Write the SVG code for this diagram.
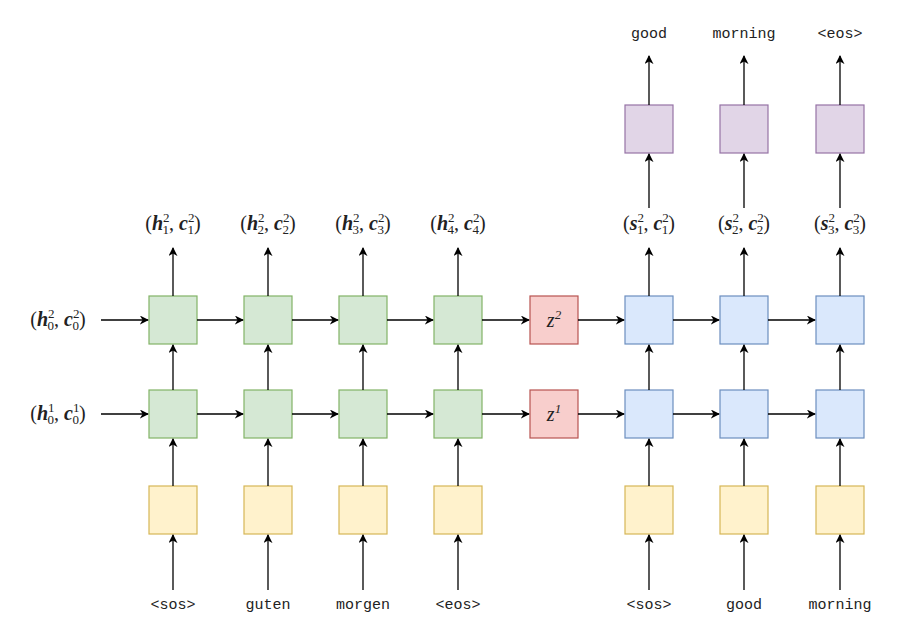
<svg xmlns="http://www.w3.org/2000/svg" width="906" height="636" viewBox="0 0 906 636">
<defs><marker id="a" viewBox="0 0 10 10" refX="9" refY="5" markerWidth="9" markerHeight="9" markerUnits="userSpaceOnUse" orient="auto"><path d="M0,0L10,5L0,10L3,5Z" fill="#000"/></marker></defs>
<style>
.g{fill:#d5e8d4;stroke:#82b366}.b{fill:#dae8fc;stroke:#6c8ebf}.y{fill:#fff2cc;stroke:#d6b656}.p{fill:#e1d5e7;stroke:#9673a6}.r{fill:#f8cecc;stroke:#b85450}
rect{stroke-width:1.2}
.c line{stroke:#000;stroke-width:1.3;marker-end:url(#a)}
.w{font-family:"Liberation Mono","Courier New",monospace;font-size:15px;text-anchor:middle;fill:#222}
.m{font-family:"Liberation Serif","DejaVu Serif",serif;font-size:20px;text-anchor:middle;fill:#222}
.i{font-style:italic;font-weight:bold}
.s{font-size:13px}
</style>
<rect width="906" height="636" fill="#fff"/>
<g id="enc-emb"><rect class="y" x="149" y="486" width="48" height="48"/><rect class="y" x="244" y="486" width="48" height="48"/><rect class="y" x="339" y="486" width="48" height="48"/><rect class="y" x="434" y="486" width="48" height="48"/></g>
<g id="dec-emb"><rect class="y" x="625" y="486" width="48" height="48"/><rect class="y" x="720" y="486" width="48" height="48"/><rect class="y" x="816" y="486" width="48" height="48"/></g>
<g id="enc1"><rect class="g" x="149" y="390" width="48" height="48"/><rect class="g" x="244" y="390" width="48" height="48"/><rect class="g" x="339" y="390" width="48" height="48"/><rect class="g" x="434" y="390" width="48" height="48"/></g>
<g id="enc2"><rect class="g" x="149" y="296" width="48" height="48"/><rect class="g" x="244" y="296" width="48" height="48"/><rect class="g" x="339" y="296" width="48" height="48"/><rect class="g" x="434" y="296" width="48" height="48"/></g>
<g id="dec1"><rect class="b" x="625" y="390" width="48" height="48"/><rect class="b" x="720" y="390" width="48" height="48"/><rect class="b" x="816" y="390" width="48" height="48"/></g>
<g id="dec2"><rect class="b" x="625" y="296" width="48" height="48"/><rect class="b" x="720" y="296" width="48" height="48"/><rect class="b" x="816" y="296" width="48" height="48"/></g>
<g id="out"><rect class="p" x="625" y="105" width="48" height="48"/><rect class="p" x="720" y="105" width="48" height="48"/><rect class="p" x="816" y="105" width="48" height="48"/></g>
<g id="z2"><rect class="r" x="530" y="296" width="48" height="48"/><text class="m" x="554" y="327" font-style="italic">z<tspan class="s" dy="-8">2</tspan></text></g>
<g id="z1"><rect class="r" x="530" y="390" width="48" height="48"/><text class="m" x="554" y="421" font-style="italic">z<tspan class="s" dy="-8">1</tspan></text></g>
<g class="c">
<line x1="173" y1="590" x2="173" y2="535"/><line x1="268" y1="590" x2="268" y2="535"/><line x1="363" y1="590" x2="363" y2="535"/><line x1="458" y1="590" x2="458" y2="535"/><line x1="649" y1="590" x2="649" y2="535"/><line x1="744" y1="590" x2="744" y2="535"/><line x1="840" y1="590" x2="840" y2="535"/>
<line x1="173" y1="486" x2="173" y2="439"/><line x1="268" y1="486" x2="268" y2="439"/><line x1="363" y1="486" x2="363" y2="439"/><line x1="458" y1="486" x2="458" y2="439"/><line x1="649" y1="486" x2="649" y2="439"/><line x1="744" y1="486" x2="744" y2="439"/><line x1="840" y1="486" x2="840" y2="439"/>
<line x1="173" y1="390" x2="173" y2="345"/><line x1="268" y1="390" x2="268" y2="345"/><line x1="363" y1="390" x2="363" y2="345"/><line x1="458" y1="390" x2="458" y2="345"/><line x1="649" y1="390" x2="649" y2="345"/><line x1="744" y1="390" x2="744" y2="345"/><line x1="840" y1="390" x2="840" y2="345"/>
<line x1="173" y1="296" x2="173" y2="248"/><line x1="268" y1="296" x2="268" y2="248"/><line x1="363" y1="296" x2="363" y2="248"/><line x1="458" y1="296" x2="458" y2="248"/><line x1="649" y1="296" x2="649" y2="248"/><line x1="744" y1="296" x2="744" y2="248"/><line x1="840" y1="296" x2="840" y2="248"/>
<line x1="649" y1="208" x2="649" y2="154"/><line x1="744" y1="208" x2="744" y2="154"/><line x1="840" y1="208" x2="840" y2="154"/>
<line x1="649" y1="105" x2="649" y2="56"/><line x1="744" y1="105" x2="744" y2="56"/><line x1="840" y1="105" x2="840" y2="56"/>
<line x1="101" y1="320" x2="148" y2="320"/><line x1="197" y1="320" x2="243" y2="320"/><line x1="292" y1="320" x2="338" y2="320"/><line x1="387" y1="320" x2="433" y2="320"/><line x1="482" y1="320" x2="529" y2="320"/><line x1="578" y1="320" x2="624" y2="320"/><line x1="673" y1="320" x2="719" y2="320"/><line x1="768" y1="320" x2="815" y2="320"/>
<line x1="101" y1="414" x2="148" y2="414"/><line x1="197" y1="414" x2="243" y2="414"/><line x1="292" y1="414" x2="338" y2="414"/><line x1="387" y1="414" x2="433" y2="414"/><line x1="482" y1="414" x2="529" y2="414"/><line x1="578" y1="414" x2="624" y2="414"/><line x1="673" y1="414" x2="719" y2="414"/><line x1="768" y1="414" x2="815" y2="414"/>
</g>
<g id="words">
<text class="w" x="173" y="609">&lt;sos&gt;</text><text class="w" x="268" y="609">guten</text><text class="w" x="363" y="609">morgen</text><text class="w" x="458" y="609">&lt;eos&gt;</text><text class="w" x="649" y="609">&lt;sos&gt;</text><text class="w" x="744" y="609">good</text><text class="w" x="840" y="609">morning</text>
<text class="w" x="649" y="38">good</text><text class="w" x="744" y="38">morning</text><text class="w" x="840" y="38">&lt;eos&gt;</text>
</g>
<g id="labels">
<text class="m" x="173" y="230">(<tspan class="i">h</tspan><tspan class="s" dy="-8">2</tspan><tspan class="s" dx="-7" dy="12">1</tspan><tspan dy="-4">, </tspan><tspan class="i">c</tspan><tspan class="s" dy="-8">2</tspan><tspan class="s" dx="-7" dy="12">1</tspan><tspan dy="-4">)</tspan></text>
<text class="m" x="268" y="230">(<tspan class="i">h</tspan><tspan class="s" dy="-8">2</tspan><tspan class="s" dx="-7" dy="12">2</tspan><tspan dy="-4">, </tspan><tspan class="i">c</tspan><tspan class="s" dy="-8">2</tspan><tspan class="s" dx="-7" dy="12">2</tspan><tspan dy="-4">)</tspan></text>
<text class="m" x="363" y="230">(<tspan class="i">h</tspan><tspan class="s" dy="-8">2</tspan><tspan class="s" dx="-7" dy="12">3</tspan><tspan dy="-4">, </tspan><tspan class="i">c</tspan><tspan class="s" dy="-8">2</tspan><tspan class="s" dx="-7" dy="12">3</tspan><tspan dy="-4">)</tspan></text>
<text class="m" x="458" y="230">(<tspan class="i">h</tspan><tspan class="s" dy="-8">2</tspan><tspan class="s" dx="-7" dy="12">4</tspan><tspan dy="-4">, </tspan><tspan class="i">c</tspan><tspan class="s" dy="-8">2</tspan><tspan class="s" dx="-7" dy="12">4</tspan><tspan dy="-4">)</tspan></text>
<text class="m" x="649" y="230">(<tspan class="i">s</tspan><tspan class="s" dy="-8">2</tspan><tspan class="s" dx="-7" dy="12">1</tspan><tspan dy="-4">, </tspan><tspan class="i">c</tspan><tspan class="s" dy="-8">2</tspan><tspan class="s" dx="-7" dy="12">1</tspan><tspan dy="-4">)</tspan></text>
<text class="m" x="744" y="230">(<tspan class="i">s</tspan><tspan class="s" dy="-8">2</tspan><tspan class="s" dx="-7" dy="12">2</tspan><tspan dy="-4">, </tspan><tspan class="i">c</tspan><tspan class="s" dy="-8">2</tspan><tspan class="s" dx="-7" dy="12">2</tspan><tspan dy="-4">)</tspan></text>
<text class="m" x="840" y="230">(<tspan class="i">s</tspan><tspan class="s" dy="-8">2</tspan><tspan class="s" dx="-7" dy="12">3</tspan><tspan dy="-4">, </tspan><tspan class="i">c</tspan><tspan class="s" dy="-8">2</tspan><tspan class="s" dx="-7" dy="12">3</tspan><tspan dy="-4">)</tspan></text>
<text class="m" x="58" y="326">(<tspan class="i">h</tspan><tspan class="s" dy="-8">2</tspan><tspan class="s" dx="-7" dy="12">0</tspan><tspan dy="-4">, </tspan><tspan class="i">c</tspan><tspan class="s" dy="-8">2</tspan><tspan class="s" dx="-7" dy="12">0</tspan><tspan dy="-4">)</tspan></text>
<text class="m" x="58" y="420">(<tspan class="i">h</tspan><tspan class="s" dy="-8">1</tspan><tspan class="s" dx="-7" dy="12">0</tspan><tspan dy="-4">, </tspan><tspan class="i">c</tspan><tspan class="s" dy="-8">1</tspan><tspan class="s" dx="-7" dy="12">0</tspan><tspan dy="-4">)</tspan></text>
</g>
</svg>
